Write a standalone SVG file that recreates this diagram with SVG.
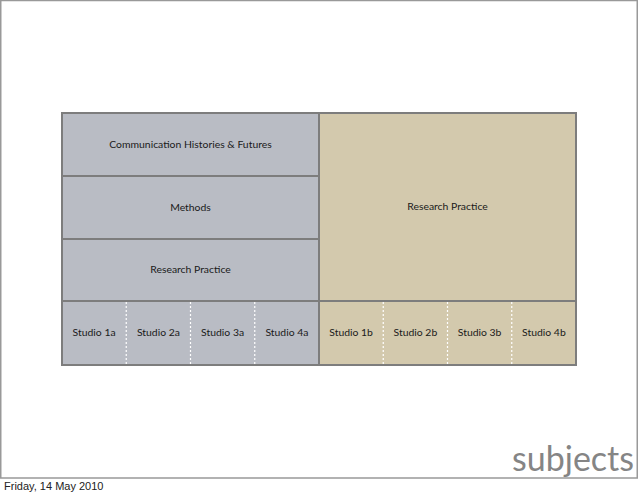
<svg xmlns="http://www.w3.org/2000/svg" width="638" height="495" viewBox="0 0 638 495">
<style>
.lbl{font-family:Lato,"Open Sans",sans-serif;font-size:10.4px;fill:#1a1a1a;text-anchor:middle}
.g{fill:#b9bcc4}
.t{fill:#d3c9ad}
.b{fill:none;stroke:#7d7d7d;stroke-width:2}
.d{stroke:#fff;stroke-width:1.2;stroke-dasharray:2 2}
</style>
<rect x="0" y="0" width="638" height="495" fill="#fff"/>
<path d="M0.75,0.5 H637.25 V478 H0.75 Z" fill="none" stroke="#999" stroke-width="1.5"/>
<g id="left-column">
<rect class="g" x="62" y="113" width="257" height="252"/>
</g>
<g id="right-column">
<rect class="t" x="319" y="113" width="257" height="252"/>
</g>
<g id="comm">
<rect class="b" x="62" y="113" width="257" height="63"/>
<text class="lbl" x="190.5" y="148">Communication Histories &amp; Futures</text>
</g>
<g id="methods">
<rect class="b" x="62" y="176" width="257" height="63"/>
<text class="lbl" x="190.5" y="211">Methods</text>
</g>
<g id="research-a">
<rect class="b" x="62" y="239" width="257" height="62"/>
<text class="lbl" x="190.5" y="273">Research Practice</text>
</g>
<g id="research-b">
<rect class="b" x="319" y="113" width="257" height="188"/>
<text class="lbl" x="447.5" y="210">Research Practice</text>
</g>
<g id="studios">
<rect class="b" x="62" y="301" width="257" height="64"/>
<rect class="b" x="319" y="301" width="257" height="64"/>
<line class="d" x1="126.25" y1="302" x2="126.25" y2="364"/>
<line class="d" x1="190.5" y1="302" x2="190.5" y2="364"/>
<line class="d" x1="254.75" y1="302" x2="254.75" y2="364"/>
<line class="d" x1="383.25" y1="302" x2="383.25" y2="364"/>
<line class="d" x1="447.5" y1="302" x2="447.5" y2="364"/>
<line class="d" x1="511.75" y1="302" x2="511.75" y2="364"/>
<text class="lbl" x="94.1" y="336">Studio 1a</text>
<text class="lbl" x="158.4" y="336">Studio 2a</text>
<text class="lbl" x="222.6" y="336">Studio 3a</text>
<text class="lbl" x="286.9" y="336">Studio 4a</text>
<text class="lbl" x="351.1" y="336">Studio 1b</text>
<text class="lbl" x="415.4" y="336">Studio 2b</text>
<text class="lbl" x="479.6" y="336">Studio 3b</text>
<text class="lbl" x="543.9" y="336">Studio 4b</text>
</g>
<text x="634" y="471" font-family="Lato,'Open Sans',sans-serif" font-size="34" fill="#858585" text-anchor="end">subjects</text>
<text x="4" y="490" font-family="'Liberation Sans',Arial,sans-serif" font-size="11" fill="#222">Friday, 14 May 2010</text>
</svg>
